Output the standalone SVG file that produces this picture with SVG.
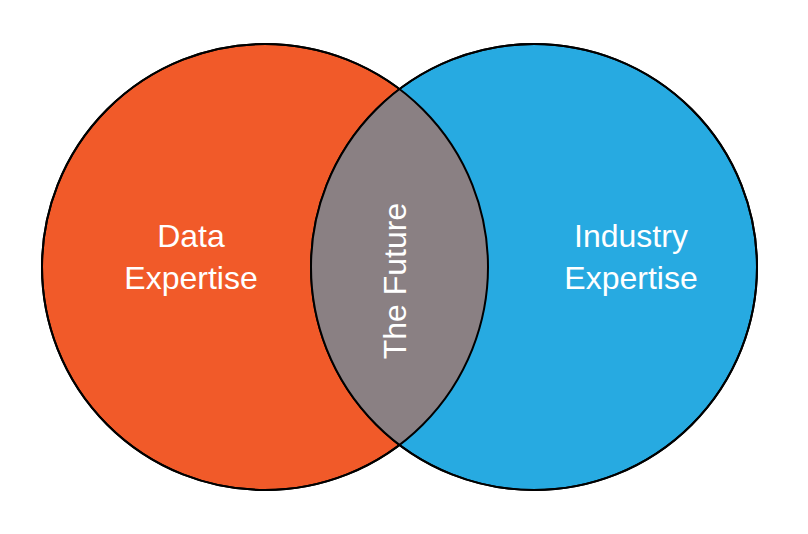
<svg xmlns="http://www.w3.org/2000/svg" width="808" height="534" viewBox="0 0 808 534">
<style>
.c{stroke:#000;stroke-width:2}
.t{font-family:"Liberation Sans",Arial,sans-serif;font-size:32px;fill:#fff;text-anchor:middle}
</style>
<defs><clipPath id="cl"><circle cx="265" cy="267" r="223"/></clipPath></defs>
<rect width="808" height="534" fill="#fff"/>
<g id="data"><circle class="c" cx="265" cy="267" r="223" fill="#f15a29"/></g>
<g id="industry"><circle class="c" cx="534" cy="267" r="223" fill="#27aae1"/></g>
<g id="future">
<circle cx="534" cy="267" r="223" fill="#8a8083" clip-path="url(#cl)"/>
<circle cx="265" cy="267" r="223" fill="none" stroke="#000" stroke-width="2"/>
<circle cx="534" cy="267" r="223" fill="none" stroke="#000" stroke-width="2"/>
<text class="t" transform="translate(406,281) rotate(-90)">The Future</text>
</g>
<g id="labels">
<text class="t" x="191" y="247">Data</text>
<text class="t" x="191" y="289">Expertise</text>
<text class="t" x="631" y="247">Industry</text>
<text class="t" x="631" y="289">Expertise</text>
</g>
</svg>
